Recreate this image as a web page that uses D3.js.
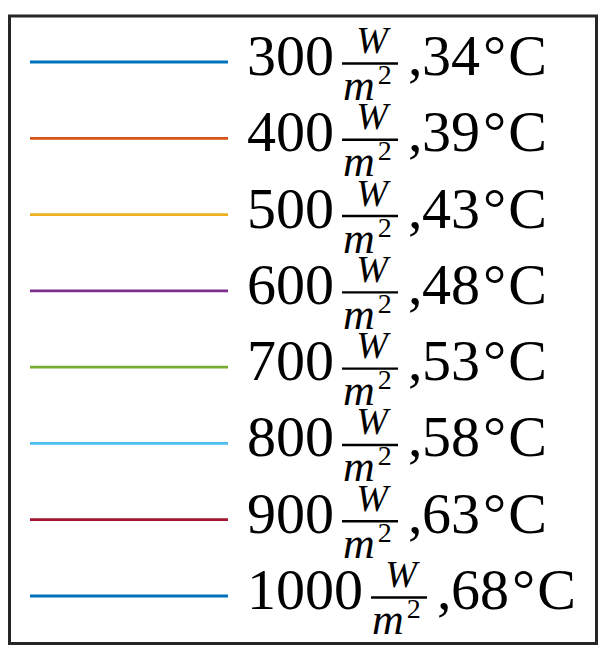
<!DOCTYPE html>
<html>
<head>
<meta charset="utf-8">
<script src="https://cdn.jsdelivr.net/npm/d3@7"></script>
<style>
  html, body { margin: 0; padding: 0; background: #fff; }
</style>
</head>
<body>
<div id="chart"></div>
<script>
const width = 607;
const height = 656;

// legend entries
const irradiance = [300, 400, 500, 600, 700, 800, 900, 1000];
const temperature = [34, 39, 43, 48, 53, 58, 63, 68];
const colors = ["#0072BD", "#D95319", "#EDB120", "#7E2F8E", "#77AC30", "#4DBEEE", "#A2142F", "#0072BD"];

const font = "'Liberation Serif', 'DejaVu Serif', serif";

const svg = d3.select("#chart")
    .append("svg")
    .attr("width", width)
    .attr("height", height);

svg.append("rect")
    .attr("x", 9.5)
    .attr("y", 16)
    .attr("width", 587)
    .attr("height", 627.5)
    .attr("fill", "#fff")
    .attr("stroke", "#262626")
    .attr("stroke-width", 3);

const y = d3.scalePoint()
    .domain(irradiance)
    .range([62, 596]);

const x = d3.scaleLinear()
    .domain([0, 1])
    .range([30, 228]);

const rows = irradiance.map((v, i) => ({ irr: v, temp: temperature[i], color: colors[i] }));

const row = svg.selectAll(".entry")
    .data(rows)
    .enter().append("g")
    .attr("class", "entry")
    .attr("transform", d => `translate(0,${y(d.irr)})`);

row.append("line")
    .attr("x1", x(0))
    .attr("x2", x(1))
    .attr("stroke", d => d.color)
    .attr("stroke-width", 2.8);

row.each(function(d) {
    const g = d3.select(this);

    const num = g.append("text")
        .attr("x", 247)
        .attr("y", 13)
        .attr("font-family", font)
        .attr("font-size", 58)
        .text(d.irr);
    const numEnd = 247 + num.node().getComputedTextLength();

    // fraction W / m^2
    const fx0 = numEnd + 8;
    const fw = 56;
    const fc = fx0 + fw / 2;
    g.append("line")
        .attr("x1", fx0)
        .attr("x2", fx0 + fw)
        .attr("y1", 1.5)
        .attr("y2", 1.5)
        .attr("stroke", "#000")
        .attr("stroke-width", 2.4);

    g.append("text")
        .attr("x", fc + 2)
        .attr("y", -9)
        .attr("text-anchor", "middle")
        .attr("font-family", font)
        .attr("font-style", "italic")
        .attr("font-size", 38)
        .text("W");

    const den = g.append("text")
        .attr("x", fx0 + 1)
        .attr("y", 38)
        .attr("font-family", font)
        .attr("font-style", "italic")
        .attr("font-size", 44)
        .text("m");
    den.append("tspan")
        .attr("dy", -16)
        .attr("dx", 3)
        .attr("font-style", "normal")
        .attr("font-size", 28)
        .text("2");

    g.append("text")
        .attr("x", fx0 + fw + 10)
        .attr("y", 13)
        .attr("font-family", font)
        .attr("font-size", 58)
        .text(",");

    const t = g.append("text")
        .attr("x", fx0 + fw + 24)
        .attr("y", 13)
        .attr("font-family", font)
        .attr("font-size", 58)
        .text(d.temp);
    t.append("tspan")
        .attr("dx", 3)
        .text("°");
    t.append("tspan")
        .attr("dx", 2)
        .text("C");
});
</script>
</body>
</html>
